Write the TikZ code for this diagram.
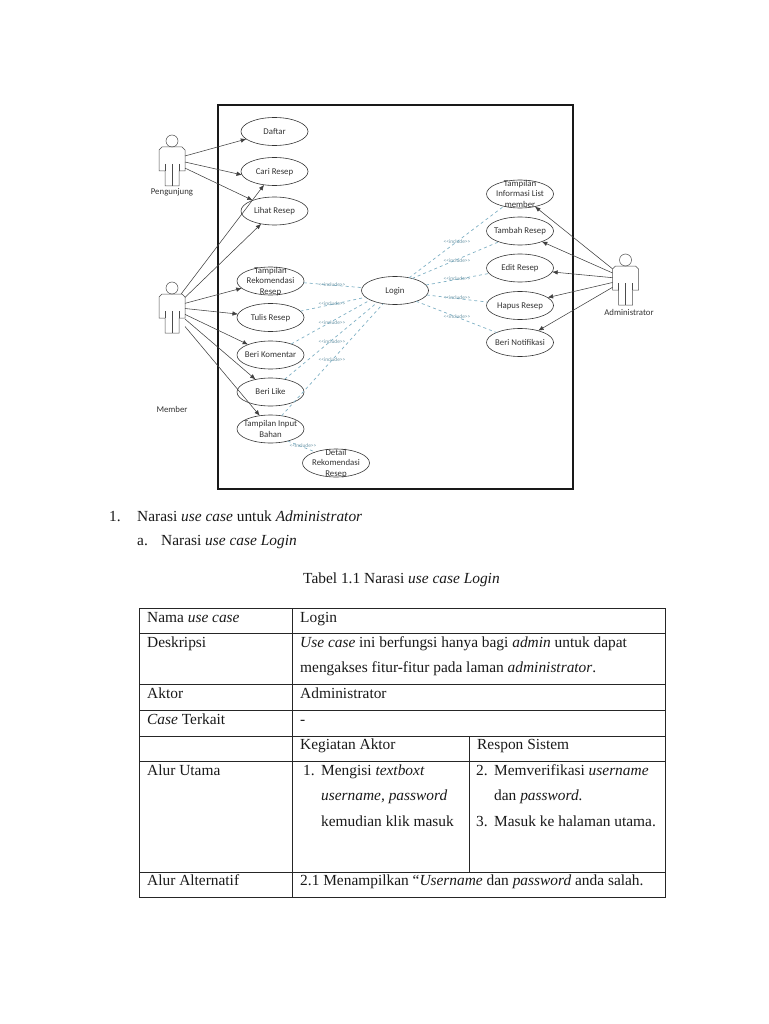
\documentclass[tikz,border=0pt]{standalone}
\usepackage{fontspec}
\setmainfont{Liberation Serif}
\newfontfamily\ucfont{Carlito}
\usetikzlibrary{shapes.geometric,arrows.meta}
\tikzset{
  usecase/.style={ellipse,draw=black!80,line width=.6pt,minimum width=67pt,minimum height=28pt,
    inner sep=0pt,outer sep=0pt,font=\ucfont\fontsize{8.8}{10.5}\selectfont,text=black!80},
  actorbox/.style={minimum width=26pt,minimum height=39pt,inner sep=0pt,outer sep=0pt},
  actorname/.style={font=\ucfont\fontsize{8.8}{10.5}\selectfont,text=black!80,inner sep=0pt},
  assoc/.style={-{Latex[length=5.5pt,width=4.5pt]},draw=black!75,line width=.55pt},
  incl/.style={dashed,draw=incblue,line width=.7pt},
  incname/.style={font=\ucfont\fontsize{5.4}{6}\selectfont,text=incblue!85!black,inner sep=0pt},
  doc/.style={anchor=base west,inner sep=0pt,font=\fontsize{15.4}{18}\selectfont,text=black!90},
  rule/.style={line width=.9pt,draw=black!85}
}
\definecolor{incblue}{HTML}{7FB0C4}
\newcommand{\uctext}[1]{\raisebox{-.7em}{\makebox[0pt]{\smash{\begin{tabular}[c]{@{}c@{}}#1\end{tabular}}}}}
\newcommand{\actorfig}[3]{% name, centre x, top y
  \draw[black!70,line width=.5pt] (#2,#3-6) circle (6pt);
  \draw[black!70,line width=.5pt] (#2-13,#3+24) -- (#2-13,#3+3) -- (#2-10,#3) -- (#2+10,#3) -- (#2+13,#3+3)
    -- (#2+13,#3+24) -- (#2+7,#3+24) -- (#2+7,#3+39) -- (#2-7,#3+39) -- (#2-7,#3+24) -- cycle;
  \draw[black!70,line width=.5pt] (#2-7,#3+17) -- (#2-7,#3+24) (#2+7,#3+17) -- (#2+7,#3+24) (#2,#3+17) -- (#2,#3+39);
  \node[actorbox] (#1) at (#2,#3+19.5) {};
}
\begin{document}
\begin{tikzpicture}[x=1pt,y=-1pt]
\useasboundingbox (0,0) rectangle (768,1024);
\draw[line width=1.6pt,black!90] (218,105) rectangle (573,489);

\actorfig{pengunjung}{172}{147}
\actorfig{member}{172}{294}
\actorfig{admin}{625.5}{266}
\node[actorname] (pengunjunglabel) at (172,192) {Pengunjung};
\node[actorname] (memberlabel) at (172,409) {Member};
\node[actorname] (adminlabel) at (629,312) {Administrator};

\node[usecase] (daftar) at (274.5,131.5) {\uctext{Daftar}};
\node[usecase] (cari) at (274.5,171.5) {\uctext{Cari Resep}};
\node[usecase] (lihat) at (274.5,211) {\uctext{Lihat Resep}};
\node[usecase] (rekom) at (270.5,281) {\uctext{Tampilan\\Rekomendasi\\Resep}};
\node[usecase] (tulis) at (270.5,317.5) {\uctext{Tulis Resep}};
\node[usecase] (komentar) at (270.5,355) {\uctext{Beri Komentar}};
\node[usecase] (like) at (270.5,392) {\uctext{Beri Like}};
\node[usecase] (input) at (270.5,429) {\uctext{Tampilan Input\\Bahan}};
\node[usecase] (detail) at (336,463) {\uctext{Detail\\Rekomendasi\\Resep}};
\node[usecase] (login) at (395,290.5) {\uctext{Login}};
\node[usecase] (info) at (520,194) {\uctext{Tampilan\\Informasi List\\member}};
\node[usecase] (tambah) at (520,231) {\uctext{Tambah Resep}};
\node[usecase] (edit) at (520,268) {\uctext{Edit Resep}};
\node[usecase] (hapus) at (520,305.5) {\uctext{Hapus Resep}};
\node[usecase] (notif) at (520,342.5) {\uctext{Beri Notifikasi}};

\foreach \a/\b in {pengunjung.39/daftar.195,pengunjung.19/cari.186,pengunjung.-7/lihat.154,
  member.65/cari.232,member.51/lihat.224,member.38/rekom.194,member.21/tulis.174,
  member.-4/komentar.155,member.-23/like.140,member.-45/input.129,
  admin.128.5/info.320,admin.136/tambah.334,admin.149.3/edit.353,admin.167.5/hapus.16,admin.188.5/notif.33}
  \draw[assoc] (\a) -- (\b);

\foreach \a/\b in {rekom.357/login.175,tulis.12/login.193,komentar.28/login.201,like.42/login.214,
  input.50.6/login.228,input.325/detail.152,login.42/info.217,login.35/tambah.207,
  login.10/edit.190,login.352/hapus.174,login.333/notif.157}
  \draw[incl] (\a) -- (\b);

\foreach \n/\x/\y in {a/332/285,b/332/304,c/332/323,d/332/342,e/332/360,f/303/446,
  g/457/242,h/457/261,i/457/279,j/457/298,k/457/317}
  \node[incname] (inc\n) at (\x,\y) {<<include>>};

\node[doc] (num) at (109,521) {1.};
\node[doc] (narasi) at (137,521) {Narasi \textit{use case} untuk \textit{Administrator}};
\node[doc] (numa) at (137,545) {a.};
\node[doc] (narasilogin) at (161,545) {Narasi \textit{use case Login}};
\node[doc] (caption) at (303,583) {Tabel 1.1 Narasi \textit{use case Login}};

\draw[rule] (139.5,608) rectangle (665.5,897);
\foreach \y in {633.5,684,710,736,761.5,872}
  \draw[rule] (139.5,\y) -- (665.5,\y);
\draw[rule] (292.5,608) -- (292.5,897);
\draw[rule] (469.5,736) -- (469.5,872);

\node[doc] (c1) at (147,622) {Nama \textit{use case}};
\node[doc] (c2) at (300,622) {Login};
\node[doc] (c3) at (147,647) {Deskripsi};
\node[doc] (c4) at (300,647) {\textit{Use case} ini berfungsi hanya bagi \textit{admin} untuk dapat};
\node[doc] (c5) at (300,672) {mengakses fitur-fitur pada laman \textit{administrator}.};
\node[doc] (c6) at (147,698) {Aktor};
\node[doc] (c7) at (300,698) {Administrator};
\node[doc] (c8) at (147,724) {\textit{Case} Terkait};
\node[doc] (c9) at (300,724) {-};
\node[doc] (c10) at (300,749) {Kegiatan Aktor};
\node[doc] (c11) at (477,749) {Respon Sistem};
\node[doc] (c12) at (147,775.5) {Alur Utama};
\node[doc] (c13) at (303,775.5) {1.};
\node[doc] (c14) at (321,775.5) {Mengisi \textit{textboxt}};
\node[doc] (c15) at (321,800.5) {\textit{username, password}};
\node[doc] (c16) at (321,826) {kemudian klik masuk};
\node[doc] (c17) at (476,775.5) {2.};
\node[doc] (c18) at (494,775.5) {Memverifikasi \textit{username}};
\node[doc] (c19) at (494,800.5) {dan \textit{password.}};
\node[doc] (c20) at (476,826) {3.};
\node[doc] (c21) at (494,826) {Masuk ke halaman utama.};
\node[doc] (c22) at (147,885) {Alur Alternatif};
\node[doc] (c23) at (300,885) {2.1 Menampilkan ``\textit{Username} dan \textit{password} anda salah.};
\end{tikzpicture}
\end{document}
